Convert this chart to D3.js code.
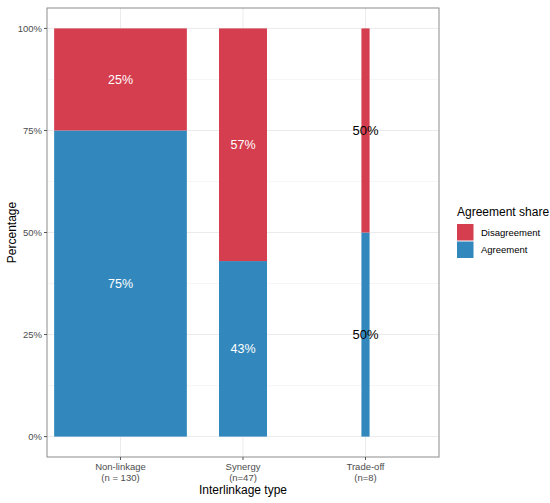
<!DOCTYPE html>
<html>
<head>
<meta charset="utf-8">
<script src="https://cdn.jsdelivr.net/npm/d3@7"></script>
<style>
  body { margin: 0; background: #fff; }
  text { font-family: "Liberation Sans", Arial, sans-serif; }
</style>
</head>
<body>
<svg></svg>
<script>
// data
var types = ["Non-linkage", "Synergy", "Trade-off"];
var typeLabels = [["Non-linkage", "(n = 130)"], ["Synergy", "(n=47)"], ["Trade-off", "(n=8)"]];
var counts = [130, 47, 8];
var agreement = [0.75, 0.43, 0.5];
var disagreement = [0.25, 0.57, 0.5];
var shares = ["Disagreement", "Agreement"];
var yTicks = [0, 0.25, 0.5, 0.75, 1];

var w = 550, h = 503;
var svg = d3.select("svg").attr("width", w).attr("height", h);

var pLeft = 47, pRight = 439, pTop = 8, pBottom = 457;

// scales (ggplot-like expansion)
var x = d3.scaleLinear().domain([0.4, 3.6]).range([pLeft, pRight]);
var y = d3.scaleLinear().domain([-0.05, 1.05]).range([pBottom, pTop]);
var color = d3.scaleOrdinal().domain(shares).range(["#D53E4F", "#3288BD"]);

// grid
var g = svg.append("g");
g.selectAll(".minor")
  .data([0.125, 0.375, 0.625, 0.875])
  .enter().append("line")
  .attr("x1", pLeft).attr("x2", pRight)
  .attr("y1", d => y(d)).attr("y2", d => y(d))
  .attr("stroke", "#EFEFEF").attr("stroke-width", 0.6);
g.selectAll(".major")
  .data(yTicks)
  .enter().append("line")
  .attr("x1", pLeft).attr("x2", pRight)
  .attr("y1", d => y(d)).attr("y2", d => y(d))
  .attr("stroke", "#EBEBEB").attr("stroke-width", 1);
g.selectAll(".vmajor")
  .data(types)
  .enter().append("line")
  .attr("y1", pTop).attr("y2", pBottom)
  .attr("x1", (d, i) => x(i + 1)).attr("x2", (d, i) => x(i + 1))
  .attr("stroke", "#EBEBEB").attr("stroke-width", 1);

// bars
var rows = types.map((t, i) => ({
  type: t, i: i, n: counts[i], agree: agreement[i], dis: disagreement[i]
}));
var bw = d => d.n / 120;

var bars = svg.append("g");
bars.selectAll(".agree")
  .data(rows).enter().append("rect")
  .attr("x", d => x(d.i + 1 - bw(d) / 2))
  .attr("width", d => x(d.i + 1 + bw(d) / 2) - x(d.i + 1 - bw(d) / 2))
  .attr("y", d => y(d.agree))
  .attr("height", d => y(0) - y(d.agree))
  .attr("fill", color("Agreement"));
bars.selectAll(".dis")
  .data(rows).enter().append("rect")
  .attr("x", d => x(d.i + 1 - bw(d) / 2))
  .attr("width", d => x(d.i + 1 + bw(d) / 2) - x(d.i + 1 - bw(d) / 2))
  .attr("y", d => y(1))
  .attr("height", d => y(d.agree) - y(1))
  .attr("fill", color("Disagreement"));

// labels
var labs = [];
rows.forEach(d => {
  labs.push({ i: d.i, v: d.dis, pos: d.agree + d.dis / 2, small: d.n < 20 });
  labs.push({ i: d.i, v: d.agree, pos: d.agree / 2, small: d.n < 20 });
});
svg.append("g").selectAll("text")
  .data(labs).enter().append("text")
  .attr("x", d => x(d.i + 1))
  .attr("y", d => y(d.pos))
  .attr("dy", "0.35em")
  .attr("text-anchor", "middle")
  .attr("font-size", d => d.small ? 13 : 12.5)
  .attr("fill", d => d.small ? "#000" : "#fff")
  .text(d => Math.round(d.v * 100) + "%");

// panel border
svg.append("rect")
  .attr("x", pLeft).attr("y", pTop)
  .attr("width", pRight - pLeft).attr("height", pBottom - pTop)
  .attr("fill", "none").attr("stroke", "#8C8C8C").attr("stroke-width", 1);

// y axis
var ya = svg.append("g");
yTicks.forEach(t => {
  ya.append("line").attr("x1", pLeft - 3).attr("x2", pLeft)
    .attr("y1", y(t)).attr("y2", y(t)).attr("stroke", "#555");
  ya.append("text").attr("x", pLeft - 5).attr("y", y(t)).attr("dy", "0.35em")
    .attr("text-anchor", "end").attr("font-size", 9.5).attr("fill", "#4D4D4D")
    .text(d3.format(".0%")(t));
});

// x axis
var xa = svg.append("g");
typeLabels.forEach((l, i) => {
  xa.append("line").attr("x1", x(i + 1)).attr("x2", x(i + 1))
    .attr("y1", pBottom).attr("y2", pBottom + 3).attr("stroke", "#555");
  var t = xa.append("text").attr("x", x(i + 1)).attr("y", pBottom + 13)
    .attr("text-anchor", "middle").attr("font-size", 9.5).attr("fill", "#4D4D4D");
  l.forEach((s, k) => t.append("tspan").attr("x", x(i + 1)).attr("dy", k ? 10.5 : 0).text(s));
});

// axis titles
svg.append("text").attr("x", (pLeft + pRight) / 2).attr("y", 494)
  .attr("text-anchor", "middle").attr("font-size", 12).text("Interlinkage type");
svg.append("text").attr("transform", "translate(16," + ((pTop + pBottom) / 2) + ") rotate(-90)")
  .attr("text-anchor", "middle").attr("font-size", 12).text("Percentage");

// legend
var lg = svg.append("g").attr("transform", "translate(457,0)");
lg.append("text").attr("x", 0).attr("y", 216).attr("font-size", 12).text("Agreement share");
shares.forEach((s, k) => {
  lg.append("rect").attr("x", 0).attr("y", 224 + k * 17.5)
    .attr("width", 16.5).attr("height", 16.5).attr("fill", color(s));
  lg.append("text").attr("x", 24).attr("y", 232.5 + k * 17.5).attr("dy", "0.35em")
    .attr("font-size", 9.5).text(s);
});
</script>
</body>
</html>
